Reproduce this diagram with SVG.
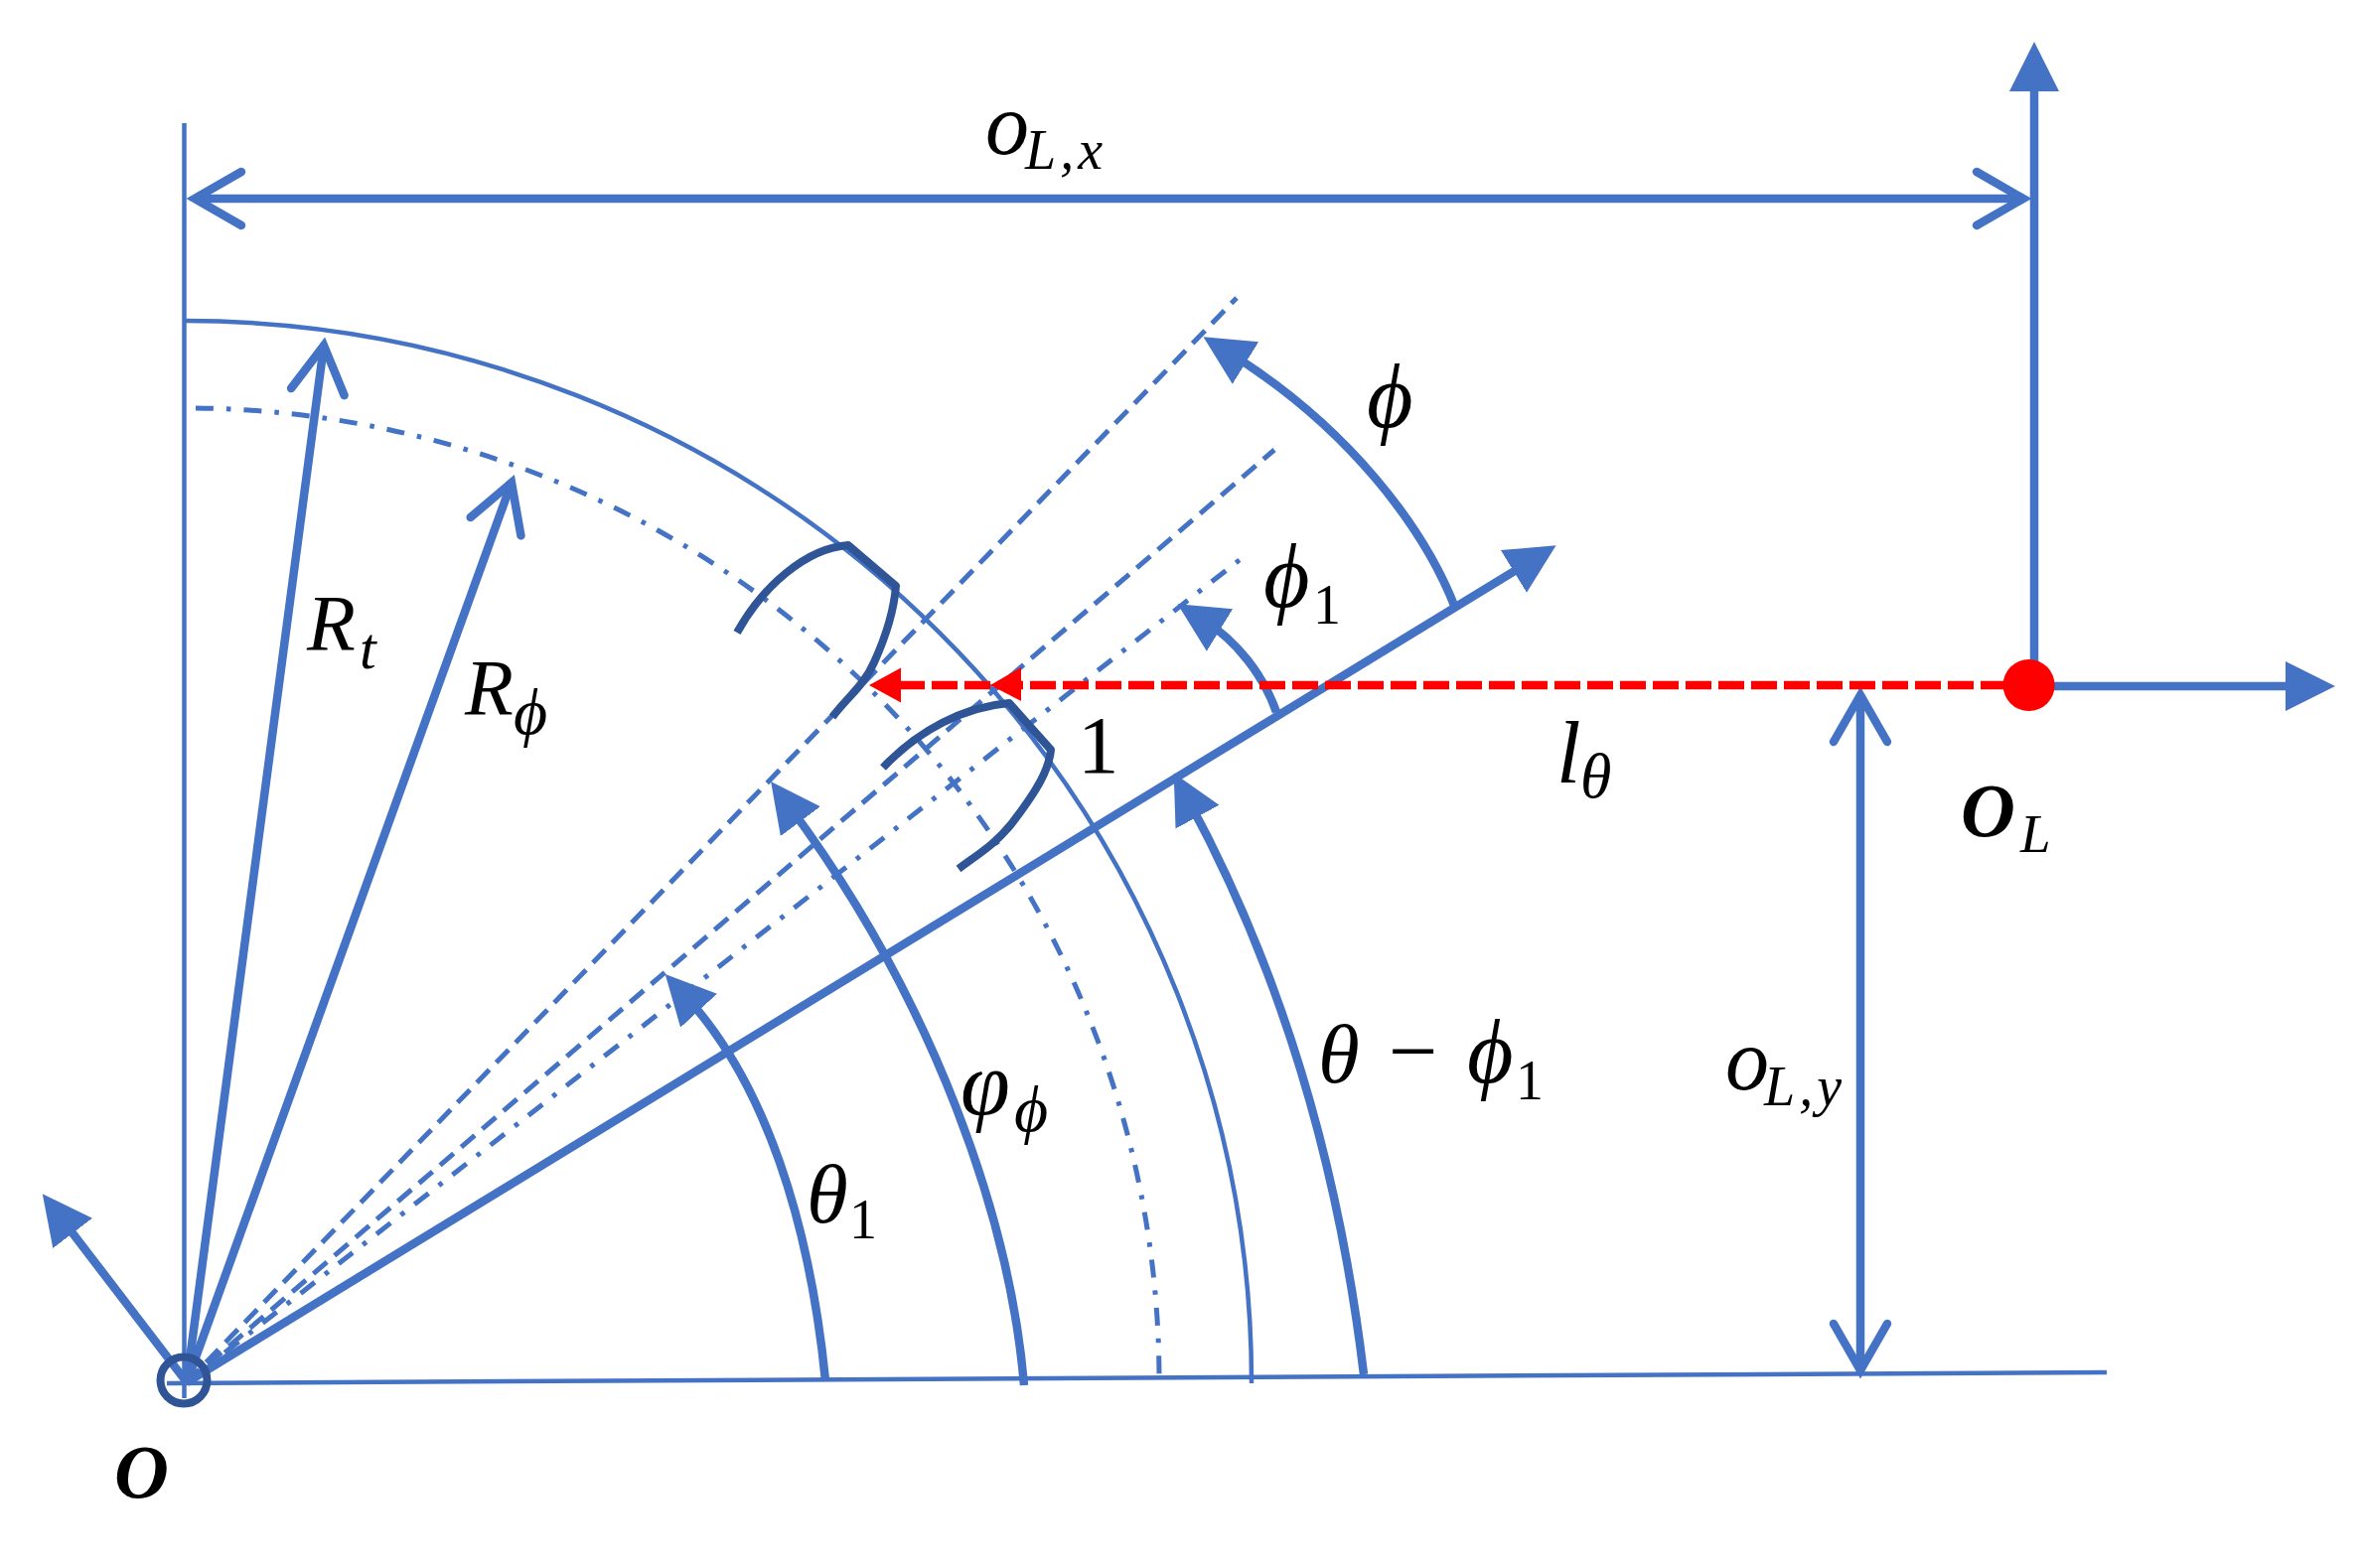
<svg xmlns="http://www.w3.org/2000/svg" width="2379" height="1579" viewBox="0 0 2379 1579">
<style>
.l{fill:none;stroke:#4472C4;stroke-width:8.500}
.t{stroke-width:4.500}
.dd{stroke-dasharray:18 10;stroke-width:5}
.dp{stroke-dasharray:18 13 4.500 13;stroke-width:5}
.ft{marker-end:url(#tri)}
.op{marker-end:url(#open)}
.ops{marker-start:url(#open)}
.dk{fill:none;stroke:#2F5597;stroke-width:8;stroke-linejoin:round}
text{font-family:"Liberation Serif",serif;font-style:italic;fill:#000}
.u{font-style:normal}
.o{font-size:88px}
.os{font-size:56px;letter-spacing:4px}
.th{font-size:85px}
.ph{font-size:90px}
.n{font-size:56px;font-style:normal}
.ob{font-size:76px;font-weight:bold}
.R{font-size:80px}
</style>
<defs>
<marker id="tri" markerUnits="userSpaceOnUse" viewBox="0 -30 60 60" markerWidth="60" markerHeight="60" refX="20" refY="0" orient="auto"><polygon points="0,-25 50,0 0,25" fill="#4472C4"/></marker>
<marker id="open" markerUnits="userSpaceOnUse" viewBox="-70 -40 80 80" markerWidth="80" markerHeight="80" refX="0" refY="0" orient="auto-start-reverse"><path d="M-47 -27 L0 0 L-47 27" fill="none" stroke="#4472C4" stroke-width="8.500" stroke-linecap="round"/></marker>
<marker id="red" markerUnits="userSpaceOnUse" viewBox="0 -25 40 50" markerWidth="40" markerHeight="50" refX="18" refY="0" orient="auto"><polygon points="0,-17.500 32,0 0,17.500" fill="#FF0000"/></marker>
</defs>
<g id="connectors">
<path class="l t" d="M185.500 124V1408"/>
<path class="l t" d="M168 1393L2121 1382"/>
<path class="l t" d="M185 323A1076 1069 0 0 1 1260 1393"/>
<path class="l dp" d="M197 411A981 979 0 0 1 1167 1393"/>
<path class="l dd" d="M188 1392L1245 300"/>
<path class="l dd" d="M188 1392L1283 453"/>
<path class="l dp" d="M188 1392L1249 563"/>
<path class="l ft" d="M188 1392L1541 565"/>
<path class="l ft" d="M188 1392L61 1226"/>
<path class="l op" d="M188 1392L326 348"/>
<path class="l op" d="M188 1392L515 486"/>
<path class="l ft" d="M2048 690V72"/>
<path class="l ft" d="M2060 691H2321"/>
<path class="l op ops" d="M196 200H2037"/>
<path class="l op ops" d="M1873 700V1380"/>
<path class="l ft" d="M831 1390C815 1230 770 1090 690 1003"/>
<path class="l ft" d="M1031 1395C1017 1230 942 1010 794 811"/>
<path class="l ft" d="M1373 1384C1345 1150 1280 960 1196 805"/>
<path class="l ft" d="M1465 612C1434 532 1358 430 1237 355"/>
<path class="l ft" d="M1285 717C1272 680 1245 645 1211 624"/>
<path d="M2020 690H889" fill="none" stroke="#FF0000" stroke-width="8.500" stroke-dasharray="26 7" marker-end="url(#red)"/>
<polygon points="997,690 1028,672 1028,706" fill="#FF0000"/>
</g>
<g id="node-origin"><circle cx="185" cy="1390" r="23.500" fill="none" stroke="#2F5597" stroke-width="8"/></g>
<g id="node-oL"><circle cx="2042.600" cy="690" r="26" fill="#FF0000"/></g>
<g id="tolerance-band-upper"><path class="dk" d="M742 637C768 590 812 552 854 549L902 590C900 615 890 645 880 667C870 690 855 700 838 722"/></g>
<g id="tolerance-band-lower"><path class="dk" d="M889 773C925 735 970 712 1016 708L1058 755C1056 775 1045 795 1018 830C1002 850 985 860 965 875"/></g>
<g id="labels">
<text class="o" x="992" y="155">o<tspan class="os" x="1032" y="170">L,x</tspan></text>
<text class="ph" x="1376" y="430">ϕ</text>
<text class="ph" x="1272" y="611">ϕ<tspan class="n" x="1322" y="628">1</tspan></text>
<text class="u" x="1085" y="778" font-size="83">1</text>
<text class="R" x="309" y="655">R<tspan font-size="60" x="362" y="673">t</tspan></text>
<text class="R" x="468" y="720">R<tspan font-size="66" x="517" y="739">ϕ</tspan></text>
<text x="1567" y="788" font-size="88">l<tspan font-size="64" x="1591" y="803">θ</tspan></text>
<text class="ob" x="1974" y="842">O<tspan font-size="55" font-weight="normal" x="2034" y="858">L</tspan></text>
<text class="ob" x="115" y="1508">O</text>
<text class="o" x="1737" y="1097">o<tspan class="os" x="1776" y="1113">L,y</tspan></text>
<text class="th" x="1327" y="1090">θ<tspan class="u" font-size="88" x="1398" y="1088">−</tspan><tspan class="ph" x="1477" y="1090">ϕ</tspan><tspan class="n" x="1526" y="1107">1</tspan></text>
<text x="967" y="1122" font-size="90">φ<tspan font-size="66" x="1021" y="1139">ϕ</tspan></text>
<text class="th" x="812" y="1231">θ<tspan class="n" x="855" y="1247">1</tspan></text>
</g>
</svg>
